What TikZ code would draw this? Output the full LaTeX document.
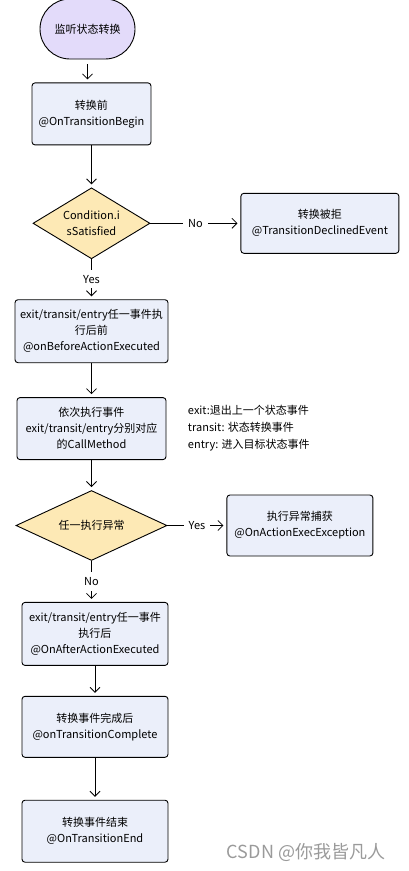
\documentclass[tikz,border=0pt]{standalone}
\usepackage{fontspec}
\setmainfont{Noto Sans CJK SC}
\usepackage{tikz}
\usetikzlibrary{shapes, positioning, arrows.meta}

\definecolor{startfill}{HTML}{E3DBFA}
\definecolor{boxfill}{HTML}{EBEFFA}
\definecolor{condfill}{HTML}{FDE9B5}
\definecolor{markgray}{HTML}{9A9A9A}

\tikzset{
  startnode/.style={draw, rectangle, rounded corners=30pt, fill=startfill, line width=0.9pt, minimum width=95pt, minimum height=60pt},
  stepbox/.style={draw, rectangle, rounded corners=3pt, fill=boxfill, line width=0.9pt, align=center, inner sep=2pt},
  condnode/.style={draw, diamond, fill=condfill, line width=0.9pt, align=center, inner sep=0pt},
  flow/.style={-{Straight Barb[length=5pt, width=10pt]}, line width=0.8pt, shorten >=3pt},
  choice/.style={fill=white, inner sep=5pt}
}

\begin{document}
\begin{tikzpicture}[x=1pt, y=1pt, font=\fontsize{11}{16}\selectfont]
  \useasboundingbox (0,0) rectangle (409,-871);

  \node[startnode] (listen) at (87.5,-29) {监听状态转换};

  \node[stepbox, minimum width=119pt, minimum height=62pt, below=23pt of listen, xshift=4pt] (begin)
       {转换前\\@OnTransitionBegin};

  \node[condnode, shape aspect=1.65, minimum width=117pt, minimum height=71pt, below=42pt of begin] (satisfied)
       {Condition.i\\sSatisfied};

  \node[stepbox, minimum width=158pt, minimum height=60pt, right=90pt of satisfied] (declined)
       {转换被拒\\@TransitionDeclinedEvent};

  \node[stepbox, minimum width=153pt, minimum height=63pt, below=40pt of satisfied] (before)
       {exit/transit/entry任一事件执\\行后前\\@onBeforeActionExecuted};

  \node[stepbox, minimum width=149pt, minimum height=62pt, below=34pt of before] (call)
       {依次执行事件\\exit/transit/entry分别对应\\的CallMethod};

  \node[right=18pt of call, align=left, font=\fontsize{11}{17}\selectfont] (notes)
       {exit:退出上一个状态事件\\transit: 状态转换事件\\entry: 进入目标状态事件};

  \node[condnode, shape aspect=2.15, minimum width=151pt, minimum height=70pt, below=30pt of call] (failed) {任一执行异常};

  \node[stepbox, minimum width=146pt, minimum height=61pt, right=59pt of failed] (caught)
       {执行异常捕获\\@OnActionExecException};

  \node[stepbox, minimum width=146pt, minimum height=63pt, below=41pt of failed, xshift=3.5pt] (after)
       {exit/transit/entry任一事件\\执行后\\@OnAfterActionExecuted};

  \node[stepbox, minimum width=146pt, minimum height=61pt, below=30pt of after] (complete)
       {转换事件完成后\\@onTransitionComplete};

  \node[stepbox, minimum width=146pt, minimum height=62pt, below=42pt of complete] (finish)
       {转换事件结束\\@OnTransitionEnd};

  \node[text=markgray, font=\fontsize{18}{20}\selectfont] (mark) at (306,-852) {CSDN @你我皆凡人};

  \draw[flow, shorten <=5pt] (listen.south) -- (listen.south |- begin.north);
  \draw[flow] (begin) -- (satisfied);
  \draw[flow] (satisfied) -- node[choice] {Yes} (before);
  \draw[flow] (satisfied) -- node[choice] {No} (declined);
  \draw[flow] (before) -- (call);
  \draw[flow] (call) -- (failed);
  \draw[flow] (failed) -- node[choice] {Yes} (caught);
  \draw[flow] (failed.south) -- node[choice] {No} (failed.south |- after.north);
  \draw[flow] (after) -- (complete);
  \draw[flow] (complete) -- (finish);

\end{tikzpicture}
\end{document}
